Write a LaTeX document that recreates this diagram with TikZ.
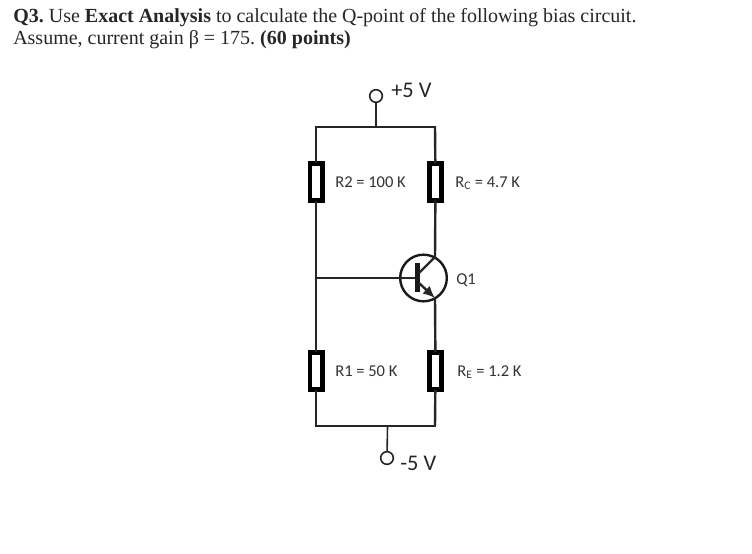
\documentclass[tikz,border=0pt]{standalone}
\usepackage{fontspec}
\setmainfont{Liberation Serif}
\newfontfamily\lab{Carlito}
\usetikzlibrary{arrows.meta}
\frenchspacing
\tikzset{
  wire/.style={line width=1.8pt,draw=black!85},
  thin wire/.style={line width=1.2pt,draw=black!85},
  res/.style={draw=black,line width=3.6pt,fill=white,minimum width=9.15pt,minimum height=28pt,inner sep=0pt,outer sep=0pt},
  term/.style={circle,draw=black!85,line width=1.2pt,fill=white,minimum size=9.5pt,inner sep=0pt,outer sep=0pt},
  title/.style={anchor=base west,inner sep=0pt,font=\fontsize{15pt}{16pt}\selectfont,text=black!85},
  lbl/.style={anchor=base west,inner sep=0pt,font=\lab\fontsize{12.4pt}{14pt}\selectfont,text=black!80},
  big/.style={anchor=base west,inner sep=0pt,font=\lab\fontsize{16.8pt}{18pt}\selectfont,text=black!85}
}
\begin{document}
\begin{tikzpicture}[x=0.75pt,y=-0.75pt]
\useasboundingbox (0,0) rectangle (752,553);
\fill[white] (0,0) rectangle (752,553);
\node[title] (t1) at (13,22.5) {\textbf{Q3.} Use \textbf{Exact Analysis} to calculate the Q-point of the following bias circuit.};
\node[title] (t2) at (13,44) {Assume, current gain β = 175. \textbf{(60 points)}};

\coordinate (tl) at (316,127);
\coordinate (tm) at (376,127);
\coordinate (tr) at (435,127);
\coordinate (bl) at (316,426);
\coordinate (bm) at (387.5,426);
\coordinate (br) at (435,426);
\coordinate (bj) at (316,278);
\coordinate (bb) at (417,278);
\coordinate (cin) at (419,273);
\coordinate (cout) at (435,257);
\coordinate (ein) at (419,283);
\coordinate (eout) at (435,298);

\node[res] (r2) at (316,182) {};
\node[res] (rc) at (435.5,182) {};
\node[res] (r1) at (316,371) {};
\node[res] (re) at (435.5,371) {};
\node[term] (vp) at (376,96) {};
\node[term] (vm) at (387,458) {};
\node[circle,draw=black!90,line width=1.8pt,minimum size=35pt,inner sep=0pt,outer sep=0pt] (q) at (423.5,278) {};

\draw[thin wire] (vp) -- (tm);
\draw[thin wire] (vm) -- (bm);
\draw[wire,line cap=rect] (tl) -- (tr);
\draw[wire,line cap=rect] (bl) -- (br);
\draw[wire] (tl) -- (r2);
\draw[wire] (tr) -- (rc);
\draw[wire] (r2) -- (bj);
\draw[wire] (bj) -- (r1);
\draw[wire] (r1) -- (bl);
\draw[wire] (rc) -- (cout);
\draw[wire] (eout) -- (re);
\draw[wire] (re) -- (br);
\draw[wire] (bj) -- (bb);
\draw[line width=3.2pt,draw=black!90] (417.5,263) -- (417.5,292);
\draw[wire] (cin) -- (cout);
\draw[wire,-{Latex[length=9pt,width=8pt]}] (ein) -- (eout);

\node[big] (lp) at (391,97.5) {+5 V};
\node[big] (lm) at (400,470) {-5 V};
\node[lbl] (l2) at (335,187.5) {R2 = 100 K};
\node[lbl] (lc) at (455,187.5) {R\textsubscript{C} = 4.7 K};
\node[lbl] (lq) at (456,284) {Q1};
\node[lbl] (l1) at (335,376.5) {R1 = 50 K};
\node[lbl] (le) at (457,376.5) {R\textsubscript{E} = 1.2 K};
\end{tikzpicture}
\end{document}
